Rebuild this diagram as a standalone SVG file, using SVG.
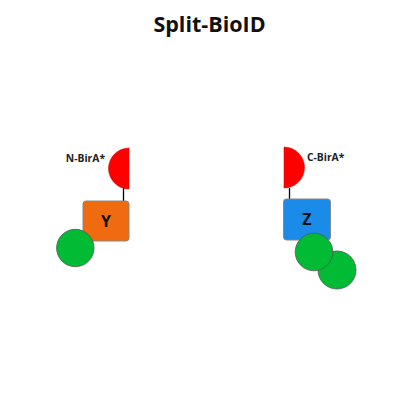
<svg xmlns="http://www.w3.org/2000/svg" width="400" height="400" viewBox="0 0 400 400">
<style>
.title{font-family:"Open Sans","Liberation Sans",sans-serif;font-weight:bold;font-size:21.5px;fill:#111}
.lbl{font-family:"Open Sans","Liberation Sans",sans-serif;font-weight:bold;font-size:10.3px;fill:#222}
.box{stroke:#888;stroke-width:1}
.boxlbl{font-family:"Open Sans","Liberation Sans",sans-serif;font-weight:bold;font-size:16px;fill:#111}
.half{fill:#ff0000;stroke:#c00;stroke-width:0.5}
.glob{fill:#00bb33;stroke:#555;stroke-width:0.8}
.link{stroke:#000;stroke-width:1.3}
</style>
<rect width="400" height="400" fill="#fff"/>
<text class="title" x="209.5" y="32" text-anchor="middle">Split-BioID</text>
<g id="connectors">
<line class="link" x1="123.5" y1="188" x2="123.5" y2="201"/>
<line class="link" x1="289.5" y1="188" x2="289.5" y2="199"/>
</g>
<g id="N-BirA">
<path class="half" d="M129,148 A20.5,20.5 0 0 0 129,189 Z"/>
<text class="lbl" x="105" y="162" text-anchor="end">N-BirA*</text>
</g>
<g id="Y">
<rect class="box" x="83" y="201" width="46" height="40" rx="3" fill="#f06a10"/>
<text class="boxlbl" x="106" y="227" text-anchor="middle">Y</text>
</g>
<g id="greenY">
<circle class="glob" cx="75.3" cy="248" r="18.7"/>
</g>
<g id="C-BirA">
<path class="half" d="M284,147 A20.5,20.5 0 0 1 284,188 Z"/>
<text class="lbl" x="307" y="161">C-BirA*</text>
</g>
<g id="Z">
<rect class="box" x="283.5" y="199" width="47" height="41" rx="3" fill="#1a8be8"/>
<text class="boxlbl" x="307" y="225" text-anchor="middle">Z</text>
</g>
<g id="greenZ2">
<circle class="glob" cx="337" cy="270" r="19"/>
</g>
<g id="greenZ1">
<circle class="glob" cx="314" cy="252" r="18.8"/>
</g>
</svg>
